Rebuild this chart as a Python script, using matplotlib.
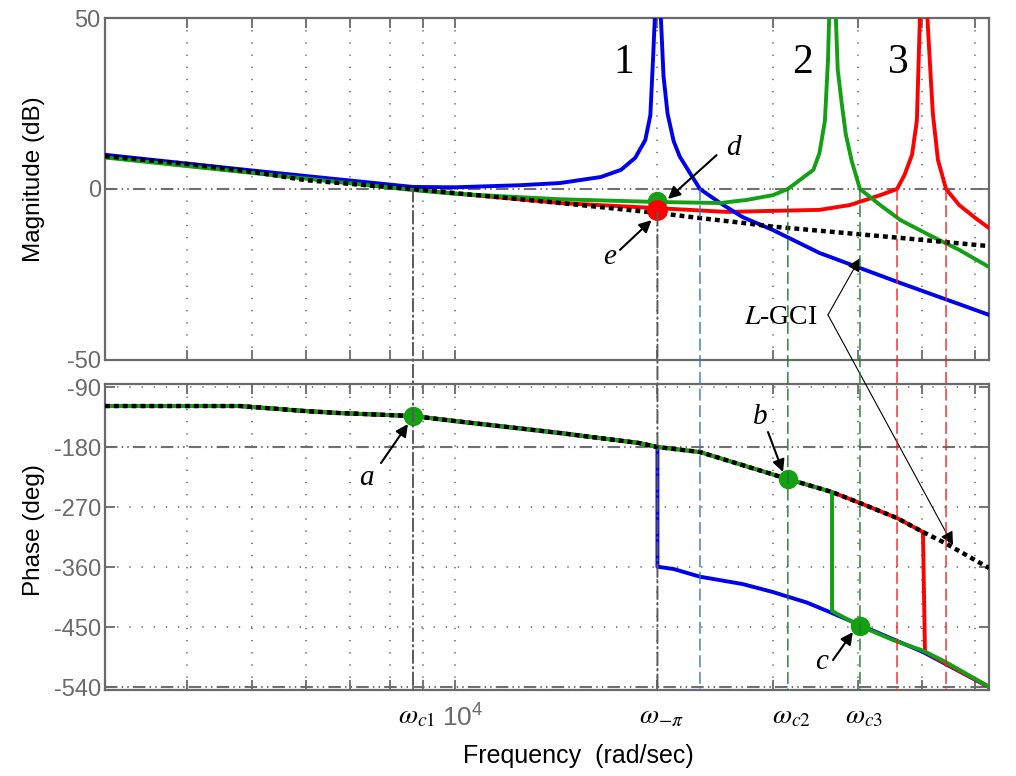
import numpy as np
import matplotlib
matplotlib.use("Agg")
import matplotlib.pyplot as plt
from matplotlib.patches import ConnectionPatch
from matplotlib.ticker import NullLocator

plt.rcParams.update({
    "font.family": ["Liberation Sans", "DejaVu Sans"],
    "font.size": 17,
    "mathtext.fontset": "custom",
    "mathtext.rm": "Liberation Sans",
    "mathtext.it": "Liberation Sans:italic",
    "axes.linewidth": 1.6,
    "axes.unicode_minus": False,
})
GRAY = "#6a6a6a"
SERIF = "Liberation Serif"
C1, C2, C3 = "#0000f0", "#13a013", "#ff0000"

# ---- values; frequencies as log10(w) ----
XLIM = [2.272, 6.637]
GRID_LW = [2.677, 3.0, 3.264, 3.481, 3.679, 3.842, 4.0, 5.0, 5.570, 5.990, 6.306, 6.568]
MAG_TICKS = [-50, 0, 50]
PH_TICKS = [-540, -450, -360, -270, -180, -90]
PH_DOTTED = [-90, -270, -360, -450]
PH_DASHDOT = [-180, -540]

# magnitude (dB)
lw_m_gci = [2.272, 2.68, 3.0, 3.26, 3.43, 3.793, 4.0, 4.52, 5.0, 5.21, 5.42, 5.57, 5.80, 6.2, 6.637]
m_gci = [9.6, 7.3, 5.0, 2.6, 1.75, 0.0, -1.2, -4.1, -7.0, -8.5, -9.9, -11.0, -12.2, -14.3, -16.7]

lw_m1 = [2.272, 3.0, 3.793, 4.0, 4.32, 4.52, 4.72, 4.82, 4.89, 4.94, 4.965, 4.978, 4.987,
         5.002, 5.017, 5.03, 5.05, 5.08, 5.11, 5.16, 5.21, 5.31, 5.42, 5.57, 5.80, 6.2, 6.637]
m1 = [10.0, 5.4, 0.6, 0.5, 1.1, 1.75, 3.5, 5.6, 9.1, 14.3, 21.6, 37.7, 50,
      95, 50, 33, 22, 14, 9.5, 4.7, 0.0, -4.1, -8.2, -12.0, -18.7, -27.5, -36.8]

lw_m2 = [2.272, 3.0, 3.793, 4.0, 4.52, 5.0, 5.31, 5.44, 5.57, 5.644, 5.77, 5.80, 5.827, 5.842,
         5.848, 5.864, 5.881, 5.89, 5.91, 5.93, 5.96, 6.0, 6.1, 6.2, 6.35, 6.49, 6.637]
m2 = [9.2, 4.7, -0.3, -1.4, -3.0, -3.8, -4.1, -3.2, -1.8, 0.0, 5.6, 10.5, 20, 37.7,
      50, 95, 50, 35, 25, 16, 8, 0.0, -4.7, -9.1, -13.7, -17.8, -22.8]

lw_m3 = [2.272, 3.0, 3.793, 4.0, 4.52, 5.0, 5.34, 5.80, 5.95, 6.1, 6.183, 6.22, 6.257, 6.281,
         6.296, 6.321, 6.333, 6.35, 6.36, 6.385, 6.425, 6.49, 6.57, 6.637]
m3 = [9.4, 4.8, -0.2, -1.3, -4.1, -5.6, -6.7, -6.1, -4.7, -1.8, 0.0, 4.1, 10, 20,
      50, 95, 50, 32, 22, 8.5, 0.0, -4.7, -8.5, -11.4]

# phase (deg)
lw_p_gci = [2.272, 2.94, 3.26, 3.43, 3.793, 4.0, 4.52, 4.91, 5.0, 5.21, 5.644, 5.862,
            6.0, 6.183, 6.311, 6.42, 6.637]
p_gci = [-118.5, -118.5, -126, -129, -133.5, -141, -159, -174, -180, -187.5, -228, -247.5,
         -264, -286.5, -307.5, -324, -361.5]

lw_p1 = [2.272, 2.94, 3.26, 3.43, 3.793, 4.0, 4.52, 4.91, 5.0, 5.0, 5.08, 5.21, 5.42,
         5.57, 5.74, 5.862, 6.0, 6.311, 6.637]
p1 = [-118.5, -118.5, -126, -129, -133.5, -141, -159, -174, -180, -359.5, -363, -374.5, -385.5,
      -397.5, -413.5, -429, -447, -487.5, -540]

lw_p2 = [2.272, 2.94, 3.26, 3.43, 3.793, 4.0, 4.52, 4.91, 5.0, 5.21, 5.644, 5.862, 5.862,
         6.0, 6.163, 6.311, 6.42, 6.637]
p2 = [-118.5, -118.5, -126, -129, -133.5, -141, -159, -174, -180, -187.5, -228, -247.5, -426,
      -448.5, -469.5, -485.5, -502, -539.5]

lw_p3 = [2.272, 2.94, 3.26, 3.43, 3.793, 4.0, 4.52, 4.91, 5.0, 5.21, 5.644, 5.862, 6.0,
         6.183, 6.311, 6.321, 6.42, 6.637]
p3 = [-118.5, -118.5, -126, -129, -133.5, -141, -159, -174, -180, -187.5, -228, -247.5, -264,
      -286.5, -307.5, -487, -504, -540]

# characteristic frequencies
lw_c1, lw_pi, lw_c2, lw_c3 = 3.793, 5.0, 5.644, 6.0
lw_x1 = 5.21                 # blue 0 dB crossing
lw_x3 = [6.183, 6.425]       # red 0 dB crossings
dot_d, dot_e = -3.6, -6.0    # magnitudes at w_-pi
dot_a, dot_b, dot_c = -133.5, -228, -448.5


def W(v):
    return 10 ** np.asarray(v, dtype=float)


fig = plt.figure(figsize=(10.16, 7.76), dpi=100)
ax1 = fig.add_axes([0.1033, 0.5361, 0.8701, 0.4407])
ax2 = fig.add_axes([0.1033, 0.1108, 0.8701, 0.3943])

dot_ls = (0, (0.8, 6.5))
dd_ls = (0, (6, 2, 0.7, 2, 0.7, 2))
for ax in (ax1, ax2):
    ax.set_xscale("log")
    ax.set_xlim(W(XLIM))
    ax.set_xticks(W(GRID_LW))
    ax.xaxis.set_minor_locator(NullLocator())
    ax.tick_params(axis="both", direction="in", length=7, width=1.3, color=GRAY,
                   labelcolor=GRAY, top=True, right=True, labelsize=17, pad=3,
                   labelbottom=False)
    for sp in ax.spines.values():
        sp.set_color(GRAY)
    for g in W(GRID_LW):
        ax.axvline(g, color="#707070", lw=1.2, ls=dot_ls, zorder=0)

# ---- magnitude ----
ax1.set_ylim(-50, 50)
ax1.set_yticks(MAG_TICKS)
ax1.axhline(0, color="#707070", lw=1.5, ls=dd_ls, zorder=1)
ax1.plot(W(lw_m3), m3, color=C3, lw=2.8, zorder=3)
ax1.plot(W(lw_m1), m1, color=C1, lw=2.8, zorder=3)
ax1.plot(W(lw_m2), m2, color=C2, lw=2.8, zorder=3)
ax1.plot(W(lw_m_gci), m_gci, color="k", lw=3.2, ls=(0, (1.1, 0.9)), zorder=4)
ax1.plot(W(lw_pi), dot_d, "o", ms=13, color=C2, zorder=5)
ax1.plot(W(lw_pi), dot_e, "o", ms=14, color=C3, zorder=6)
ax1.set_ylabel("Magnitude (dB)", fontsize=17.5)
ax1.yaxis.set_label_coords(-0.068, 0.529)

for lab, lx in zip(["1", "2", "3"], [4.835, 5.714, 6.188]):
    ax1.text(W(lx), 36.8, lab, fontsize=30, family=SERIF, ha="center", va="center")

# ---- phase ----
ax2.set_ylim(-544.5, -85.5)
ax2.set_yticks(PH_TICKS)
for v in PH_DOTTED:
    ax2.axhline(v, color="#707070", lw=1.2, ls=dot_ls, zorder=0)
for v in PH_DASHDOT:
    ax2.axhline(v, color="#707070", lw=1.5, ls=dd_ls, zorder=1)
ax2.plot(W(lw_p1), p1, color=C1, lw=2.8, zorder=3)
ax2.plot(W(lw_p3), p3, color=C3, lw=2.8, zorder=3)
ax2.plot(W(lw_p2), p2, color=C2, lw=2.8, zorder=3)
ax2.plot(W(lw_p_gci), p_gci, color="k", lw=3.2, ls=(0, (1.1, 0.9)), zorder=4)
ax2.plot(W([lw_c1, lw_c2, lw_c3]), [dot_a, dot_b, dot_c], "o", ms=13, color=C2,
         ls="none", zorder=5)
ax2.set_ylabel("Phase (deg)", fontsize=17.5)
ax2.yaxis.set_label_coords(-0.068, 0.523)
ax2.set_xlabel("Frequency  (rad/sec)", fontsize=18)
ax2.xaxis.set_label_coords(0.535, -0.176)

# frequency labels under the phase axis
xt = ax2.get_xaxis_transform()
for lx, lab in [(lw_c1, r"$\omega_{c1}$"), (lw_pi, r"$\omega_{\mathrm{-}\pi}$"),
                (lw_c2, r"$\omega_{c2}$"), (lw_c3, r"$\omega_{c3}$")]:
    ax2.text(W(lx + 0.02), -0.085, lab, transform=xt, fontsize=20, ha="center",
             va="center", math_fontfamily="stix")
ax2.text(W(4.04), -0.09, r"$10^4$", transform=xt, fontsize=19, color=GRAY,
         ha="center", va="center")

# vertical marker lines running through both panels
def vline(lx, y0, color, lw, ls):
    cp = ConnectionPatch(xyA=(W(lx), y0), coordsA=ax1.transData,
                         xyB=(W(lx), -544.5), coordsB=ax2.transData,
                         color=color, lw=lw, ls=ls, zorder=2)
    fig.add_artist(cp)

gray_ls = (0, (6.5, 2, 0.8, 2))
vline(lw_c1, 0, "#5a5a5a", 1.4, gray_ls)
vline(lw_pi, -7, "#5a5a5a", 1.4, gray_ls)
vline(lw_x1, 0, "#3b73b9", 1.0, (0, (8, 4)))
vline(lw_c2, 0, "#1b7a25", 1.0, (0, (8, 4)))
vline(lw_c3, 0, "#1b7a25", 1.0, (0, (8, 4)))
for lx in lw_x3:
    vline(lx, 0, "#ee2020", 1.0, (0, (8, 4)))

# letter annotations
arw = dict(arrowstyle="-|>", color="k", lw=1.5, mutation_scale=18, shrinkA=0, shrinkB=0)
ax1.annotate("", xy=(W(5.052), -2.9), xytext=(W(5.292), 9.9), arrowprops=arw, zorder=7)
ax1.text(W(5.374), 11.9, "d", fontsize=21, family=SERIF, style="italic", ha="center", va="center")
ax1.annotate("", xy=(W(4.971), -9.1), xytext=(W(4.815), -17.8), arrowprops=arw, zorder=7)
ax1.text(W(4.765), -19.8, "e", fontsize=21, family=SERIF, style="italic", ha="center", va="center")
ax2.annotate("", xy=(W(3.768), -145.5), xytext=(W(3.635), -204), arrowprops=arw)
ax2.text(W(3.565), -226.5, "a", fontsize=21, family=SERIF, style="italic", ha="center", va="center")
ax2.annotate("", xy=(W(5.62), -217.5), xytext=(W(5.546), -157.5), arrowprops=arw)
ax2.text(W(5.509), -134.5, "b", fontsize=21, family=SERIF, style="italic", ha="center", va="center")
ax2.annotate("", xy=(W(5.965), -457.5), xytext=(W(5.867), -499.5), arrowprops=arw)
ax2.text(W(5.811), -502, "c", fontsize=21, family=SERIF, style="italic", ha="center", va="center")

# L-GCI label with two thin pointers
ax1.text(W(5.61), -37.7, r"$L$-GCI", fontsize=20, family=SERIF, ha="center", va="center",
         math_fontfamily="stix")
thin = dict(arrowstyle="-|>", color="k", lw=0.8, mutation_scale=20, shrinkA=0, shrinkB=0)
ax1.annotate("", xy=(W(6.0), -20.2), xytext=(W(5.842), -36.8), arrowprops=thin)
cp = ConnectionPatch(xyA=(W(5.842), -36.8), coordsA=ax1.transData,
                     xyB=(W(6.459), -327), coordsB=ax2.transData, **thin)
fig.add_artist(cp)

fig.savefig("out.png", dpi=100)
